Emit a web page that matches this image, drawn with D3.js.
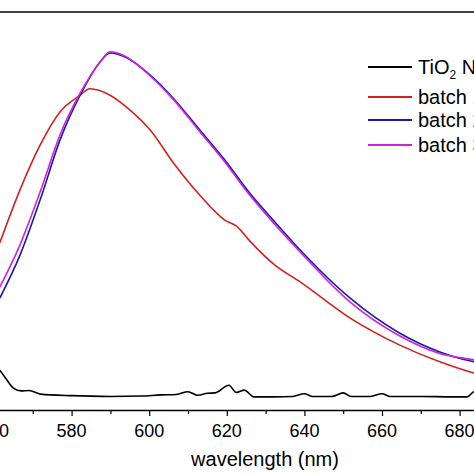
<!DOCTYPE html><html><head><script src="https://cdn.jsdelivr.net/npm/d3@7"></script>
<style>body{margin:0;background:#fff}</style></head><body><svg id="c" width="474" height="474"></svg>
<script>
const xTicks=[560,580,600,620,640,660,680];
const names=["TiO₂ NPs","batch 1","batch 2","batch 3"];
const colors=["#000000","#d42020","#1a1aaa","#d020e0"];
const tio2=[[561.5,10],[563,8],[565,5.5],[567,4.8],[569,4.9],[572,4.0],[580,3.6],[590,3.4],[598,3.5],[603,3.8],[607,3.9],[610,4.6],[612.5,3.7],[615,4.2],[617,4.3],[620.5,6.2],[622.5,4.4],[624.5,5.0],[627,3.3],[632,3.3],[637,3.4],[640,4.1],[642,3.4],[647,3.4],[650,4.3],[652,3.4],[657,3.4],[660,4.1],[662,3.4],[670,3.4],[678,3.3],[682,3.3],[683.7,4.6],[690,5]];
const batch1=[[561.5,42],[566.7,55.3],[571.9,66.6],[577,74.9],[582.2,79.1],[584.7,80.7],[589.9,79.1],[595,75.4],[600.2,70.4],[606.6,61.6],[613,54],[619.5,47.7],[622.5,46.2],[625.9,42.5],[632.4,36.4],[638.9,32.2],[651.8,23.1],[664.6,16.3],[674.9,12.1],[683.7,9.3],[690,8]];
const batch2=[[561.5,28.1],[566.7,38.9],[571.9,52.8],[577,67.8],[582.2,79.1],[587.3,87.4],[589.9,89.7],[593.8,88.7],[600.2,84.2],[606.6,77.9],[613,70.4],[619.5,62.8],[625.9,54.5],[632.4,47.2],[638.9,40.2],[651.8,28.1],[664.6,19.3],[674.9,14.6],[683.7,12.1],[690,11]];
const batch3=[[561.5,30.9],[566.7,41.5],[571.9,54.8],[577,69.1],[582.2,79.6],[587.3,87.4],[589.9,90],[593.8,88.9],[600.2,84.0],[606.6,77.6],[613,70.0],[619.5,62.3],[625.9,54.0],[632.4,46.6],[638.9,39.7],[651.8,27.1],[664.6,18.6],[674.9,14.2],[683.7,12.6],[690,11.5]];
const series=[tio2,batch1,batch2,batch3];
const svg=d3.select("#c");
const x=d3.scaleLinear().domain([560,700]).range([-6,-6+140*3.88]);
const y=d3.scaleLinear().domain([0,100]).range([410,12]);
svg.append("defs").append("clipPath").attr("id","cp").append("rect").attr("x",0).attr("y",12).attr("width",474).attr("height",398);
const line=d3.line().x(d=>x(d[0])).y(d=>y(d[1])).curve(d3.curveMonotoneX);
const g=svg.append("g").attr("clip-path","url(#cp)");
[1,2,3,0].forEach(i=>g.append("path").datum(series[i]).attr("d",line).attr("fill","none").attr("stroke",colors[i]).attr("stroke-width",1.6));
svg.append("line").attr("x1",0).attr("x2",474).attr("y1",12).attr("y2",12).attr("stroke","#000").attr("stroke-width",1.5);
const ax=svg.append("g").attr("transform","translate(0,410)");
ax.call(d3.axisBottom(x).tickValues(d3.range(560,701,10)).tickSize(0).tickFormat(""));
ax.selectAll(".tick line").remove();
ax.select(".domain").attr("stroke-width",1.5);
ax.selectAll(".tick").append("line").attr("y2",d=>d%20===0?6:4).attr("stroke","#000").attr("stroke-width",1.2);
xTicks.forEach(t=>svg.append("text").attr("x",x(t)).attr("y",437).attr("text-anchor","middle").attr("font-family","Liberation Sans, Arial").attr("font-size",18).text(t));
svg.append("text").attr("x",265).attr("y",466).attr("text-anchor","middle").attr("font-family","Liberation Sans, Arial").attr("font-size",20).text("wavelength (nm)");
const ly=[67,97,120,145];
names.forEach((n,i)=>{
 svg.append("line").attr("x1",368).attr("x2",412).attr("y1",ly[i]).attr("y2",ly[i]).attr("stroke",colors[i]).attr("stroke-width",1.8);
 const t=svg.append("text").attr("x",418).attr("y",ly[i]+7).attr("font-family","Liberation Sans, Arial").attr("font-size",20);
 if(i===0){t.append("tspan").text("TiO");t.append("tspan").attr("font-size",12).attr("dy",5).text("2");t.append("tspan").attr("dy",-5).text(" NPs");}
 else t.text(n);
});
</script></body></html>
